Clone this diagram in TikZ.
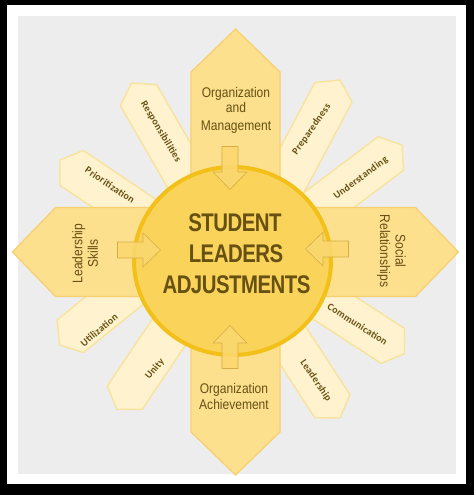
\documentclass[tikz,border=0pt]{standalone}
\usepackage{fontspec}
\setmainfont{Liberation Sans}
\newfontfamily\petalfont[LetterSpace=3]{Carlito}
\newfontfamily\armfont[FakeStretch=0.86]{Liberation Sans}
\newfontfamily\titlefont[FakeStretch=0.8,LetterSpace=-2]{Liberation Sans}
\definecolor{bggray}{HTML}{EDEDED}
\definecolor{bigfill}{HTML}{FCE08E}
\definecolor{bigline}{HTML}{F6D070}
\definecolor{petalfill}{HTML}{FEF3CE}
\definecolor{petalline}{HTML}{F8E29E}
\definecolor{hubfill}{HTML}{FAD45A}
\definecolor{hubline}{HTML}{F2C018}
\definecolor{infill}{HTML}{FBD86E}
\definecolor{inline}{HTML}{D6AE44}
\definecolor{txt}{HTML}{665012}
\begin{document}
\begin{tikzpicture}[x=1pt,y=1pt,
  bigarrow/.style={fill=bigfill, draw=bigline, line width=1.2pt, line join=miter},
  petal/.style={fill=petalfill, draw=petalline, line width=1.4pt, line join=round},
  hub/.style={fill=hubfill, draw=hubline, line width=4pt},
  inarrow/.style={fill=infill, draw=inline, line width=0.6pt, fill opacity=0.9},
  petaltext/.style={text=txt, font=\petalfont\bfseries\fontsize{10}{12}\selectfont, inner sep=0pt},
  armtext/.style={text=txt, font=\armfont\fontsize{14}{15.5}\selectfont, inner sep=0pt, anchor=base},
  sidetext/.style={text=txt, font=\armfont\fontsize{14}{15.5}\selectfont, inner sep=0pt, align=center},
  titletext/.style={text=txt, font=\titlefont\bfseries\fontsize{25.5}{30}\selectfont, inner sep=0pt, anchor=base}
]
\useasboundingbox (-235.5,-243) rectangle (238.5,252);
\fill[black] (-235.5,-243) rectangle (238.5,252);
\fill[white] (-228.5,-232) rectangle (230.5,247);
\fill[bggray] (-217.5,-222) rectangle (220.5,236);

% small petals: tip x / tip y / axis angle
\foreach \tx/\ty/\ax in {166.5/107/37, 104.5/172/62, -104/169/120, -175.5/92/146,
                          -176/-93/219, -118.6/-157.3/236, 104.5/-166/-57, 169/-101.5/-33}{
  \draw[petal, shift={(\tx,\ty)}, rotate=\ax]
    (0,0) -- (-14,21) -- (-165,21) -- (-165,-21) -- (-14,-21) -- cycle;
}

% big arrows
\foreach \r in {0,90,180,270}{
  \draw[bigarrow, rotate=\r]
    (0,-44.5) -- (180,-44.5) -- (223,0) -- (180,44.5) -- (0,44.5) -- cycle;
}

% hub
\draw[hub] (-3,-9) ellipse [x radius=98.5, y radius=94];

% inner arrows
\foreach \sx/\sy/\ro in {-92.5/2/0, 87.5/3/180, -5.5/80/-90, -5.5/-91/90}{
  \draw[inarrow, shift={(\sx,\sy)}, rotate=\ro]
    (-25.5,-8) -- (0,-8) -- (0,-17) -- (17.5,0) -- (0,17) -- (0,8) -- (-25.5,8) -- cycle;
}

% petal labels
\node[petaltext, rotate=-59] (resp) at (-74.7,120.3) {Responsibilities};
\node[petaltext, rotate=-34] (prio) at (-125.5,67) {Prioritization};
\node[petaltext, rotate=55]  (prep) at (76.2,122.8) {Preparedness};
\node[petaltext, rotate=37]  (unde) at (125.3,73.7) {Understanding};
\node[petaltext, rotate=-33] (comm) at (122,-72.2) {Communication};
\node[petaltext, rotate=-56] (lead) at (80.3,-128.8) {Leadership};
\node[petaltext, rotate=40]  (util) at (-136.5,-78) {Utilization};
\node[petaltext, rotate=50]  (unit) at (-80.5,-117) {Unity};

% big arrow labels
\node[armtext] (om1) at (0.5,154.7) {Organization};
\node[armtext] (om2) at (0.5,139.3) {and};
\node[armtext] (om3) at (0.5,121.3) {Management};
\node[armtext] (oa1) at (-1.5,-141.3) {Organization};
\node[armtext] (oa2) at (-1.5,-157) {Achievement};
\node[sidetext, rotate=90] (ls) at (-150.5,-1.5) {Leadership\\Skills};
\node[sidetext, rotate=-90] (sr) at (156,1) {Social\\Relationships};

% title
\node[titletext] (t1) at (-0.5,20) {STUDENT};
\node[titletext] (t2) at (0.5,-11) {LEADERS};
\node[titletext] (t3) at (1,-41) {ADJUSTMENTS};
\end{tikzpicture}
\end{document}
